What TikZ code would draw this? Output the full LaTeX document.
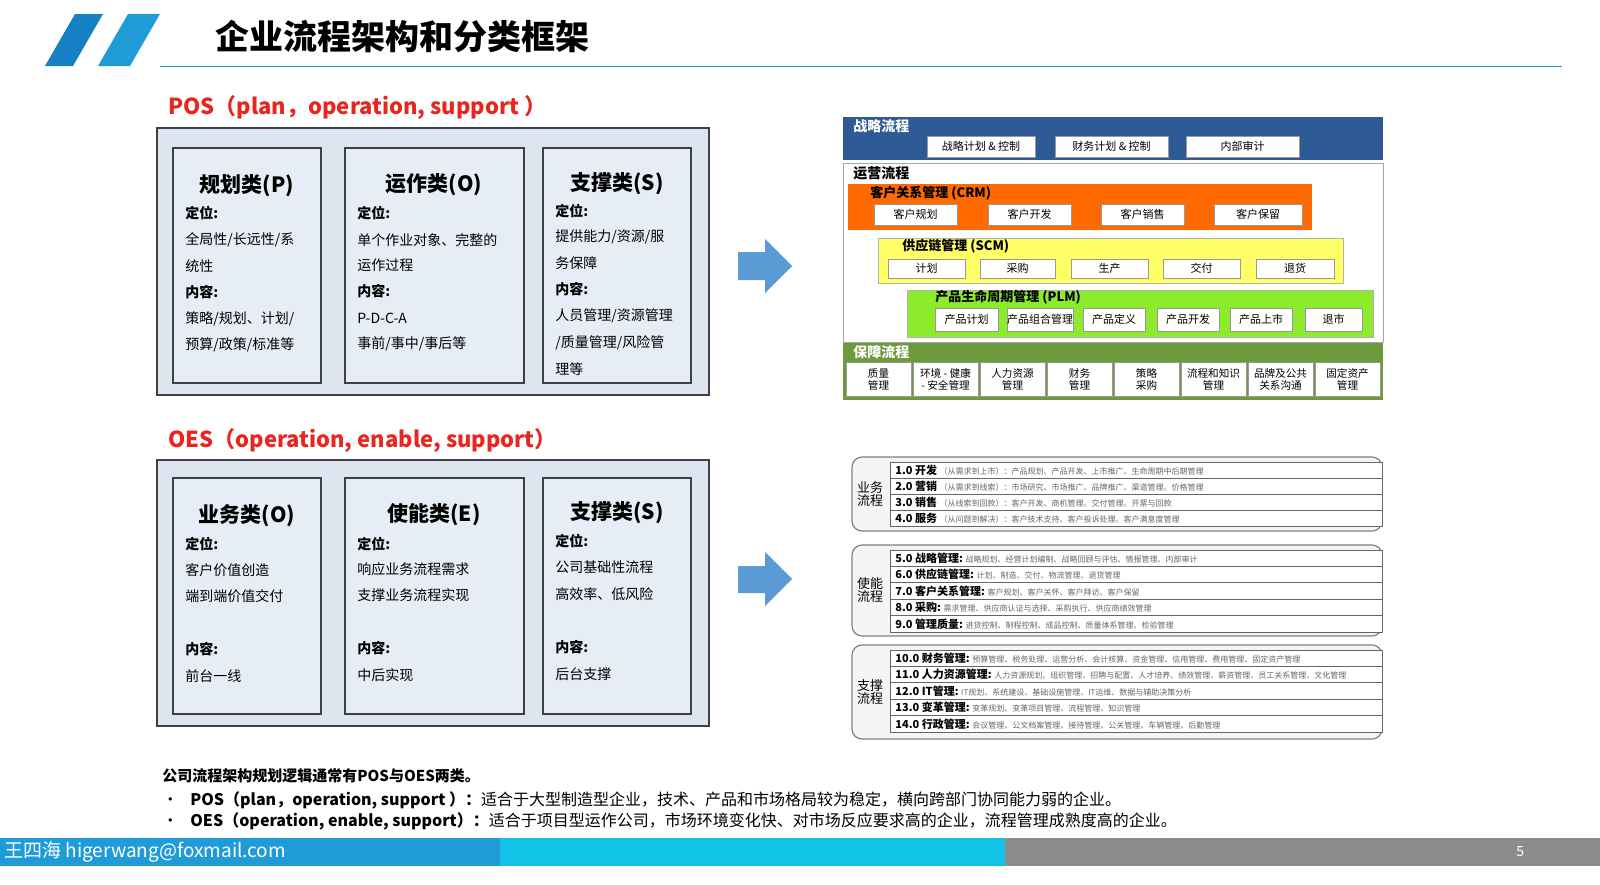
\documentclass[tikz,border=0pt]{standalone}
\usepackage{fontspec}
\setmainfont{Noto Sans CJK SC}
\definecolor{tblue}{HTML}{1F9BD7}
\definecolor{tdark}{HTML}{1580C4}
\definecolor{pred}{HTML}{E8251E}
\definecolor{boxbg}{HTML}{DCE5F0}
\definecolor{inbg}{HTML}{E6EDF6}
\definecolor{strat}{HTML}{2E5A95}
\definecolor{crm}{HTML}{FF6A00}
\definecolor{scm}{HTML}{FFFF66}
\definecolor{plm}{HTML}{8CEB2A}
\definecolor{supg}{HTML}{6C9A3C}
\definecolor{arr}{HTML}{5B9BD5}
\tikzset{
 fs/.style={font=\fontsize{#1}{#1}\selectfont},
 bfs/.style={font=\fontsize{#1}{#1}\selectfont\bfseries},
 outer/.style={draw=black!75, fill=boxbg, line width=0.6pt},
 inner/.style={draw=black!75, fill=inbg, line width=0.6pt},
 cell/.style={draw=black!40, fill=white, line width=0.5pt, inner sep=0pt, align=center, fs=5.5},
 row/.style={draw=black!60, fill=white, line width=0.4pt},
 rbox/.style={draw=black!50, fill=black!4, rounded corners=5pt, line width=0.6pt},
 txt/.style={anchor=west, inner sep=0pt, fs=7},
 head/.style={anchor=center, inner sep=0pt, bfs=10.5},
}
\begin{document}
\begin{tikzpicture}[x=0.5pt,y=-0.5pt]
\useasboundingbox (0,0) rectangle (1600,884);
\fill[white] (0,0) rectangle (1600,884);
% title
\fill[tdark] (75,14) -- (103,14) -- (73,66) -- (45,66) -- cycle;
\fill[tblue] (128,14) -- (160,14) -- (130,66) -- (98,66) -- cycle;
\draw[tblue, line width=0.5pt] (160,66) -- (1562,66);
\node[anchor=west, inner sep=0pt, bfs=17] (title) at (215,36) {企业流程架构和分类框架};
% POS
\node[anchor=west, inner sep=0pt, bfs=11, text=pred] (poslab) at (168,108) {POS（plan，operation, support ）};
\draw[outer] (157,128) rectangle (709,395);
\draw[inner] (173,148) rectangle (321,383);
\draw[inner] (345,148) rectangle (524,383);
\draw[inner] (543,148) rectangle (691,383);
\node[head] (p1) at (247,186) {规划类(P)};
\node[head] (p2) at (434,185) {运作类(O)};
\node[head] (p3) at (617,184) {支撑类(S)};
\foreach \x/\y/\t in {185/213/{\bfseries 定位:},185/240/{全局性/长远性/系},185/266/{统性},185/292/{\bfseries 内容:},185/319/{策略/规划、计划/},185/345/{预算/政策/标准等},
 357/213/{\bfseries 定位:},357/240/{单个作业对象、完整的},357/265/{运作过程},357/291/{\bfseries 内容:},357/318/{P-D-C-A},357/344/{事前/事中/事后等},
 555/211/{\bfseries 定位:},555/237/{提供能力/资源/服},555/263/{务保障},555/289/{\bfseries 内容:},555/316/{人员管理/资源管理},555/343/{/质量管理/风险管},555/369/{理等}}
 \node[txt] at (\x,\y) {\t};
\fill[arr] (738,252) -- (765,252) -- (765,239) -- (792,266) -- (765,293) -- (765,280) -- (738,280) -- cycle;
% OES
\node[anchor=west, inner sep=0pt, bfs=11, text=pred] (oeslab) at (168,440) {OES（operation, enable, support）};
\draw[outer] (157,460) rectangle (709,726);
\draw[inner] (173,478) rectangle (321,714);
\draw[inner] (345,478) rectangle (524,714);
\draw[inner] (543,478) rectangle (691,714);
\node[head] (o1) at (247,516) {业务类(O)};
\node[head] (o2) at (434,515) {使能类(E)};
\node[head] (o3) at (617,513) {支撑类(S)};
\foreach \x/\y/\t in {185/544/{\bfseries 定位:},185/570/{客户价值创造},185/596/{端到端价值交付},185/649/{\bfseries 内容:},185/676/{前台一线},
 357/544/{\bfseries 定位:},357/569/{响应业务流程需求},357/595/{支撑业务流程实现},357/648/{\bfseries 内容:},357/675/{中后实现},
 555/541/{\bfseries 定位:},555/567/{公司基础性流程},555/594/{高效率、低风险},555/647/{\bfseries 内容:},555/674/{后台支撑}}
 \node[txt] at (\x,\y) {\t};
\fill[arr] (738,566) -- (765,566) -- (765,552) -- (792,579) -- (765,606) -- (765,593) -- (738,593) -- cycle;
% right top
\fill[strat] (843,117) rectangle (1383,160);
\node[txt, text=white, bfs=7] (sl) at (853,126) {战略流程};
\node[cell, minimum width=54pt, minimum height=10.5pt] (s1) at (981,146.5) {战略计划 \& 控制};
\node[cell, minimum width=56.5pt, minimum height=10.5pt] (s2) at (1111.5,146.5) {财务计划 \& 控制};
\node[cell, minimum width=56.5pt, minimum height=10.5pt] (s3) at (1242.5,146.5) {内部审计};
\draw[black!35, fill=white] (843,163) rectangle (1383,342);
\node[txt, bfs=7] (ol) at (853,173) {运营流程};
\fill[crm] (848,184) rectangle (1312,230);
\node[txt, bfs=6.5] (crml) at (870,193) {客户关系管理 (CRM)};
\foreach \a/\b/\t [count=\i] in {874/957/客户规划,988/1071/客户开发,1101/1184/客户销售,1214/1302/客户保留}
 \node[cell, minimum width={(\b-\a)*0.5pt}, minimum height=10.5pt] (c\i) at ({(\a+\b)/2},214.5) {\t};
\draw[black!30, fill=scm] (878,238) rectangle (1343,283);
\node[txt, bfs=6.5] (scml) at (902,246) {供应链管理 (SCM)};
\foreach \a/\b/\t [count=\i] in {888/965/计划,980/1055/采购,1071/1148/生产,1163/1240/交付,1256/1334/退货}
 \node[cell, minimum width={(\b-\a)*0.5pt}, minimum height=9.5pt] (sc\i) at ({(\a+\b)/2},268.5) {\t};
\draw[black!30, fill=plm] (907,290) rectangle (1373,337);
\node[txt, bfs=6.5] (plml) at (935,297) {产品生命周期管理 (PLM)};
\foreach \a/\b/\t [count=\i] in {935/998/产品计划,1009/1071/产品组合管理,1083/1145/产品定义,1157/1219/产品开发,1230/1292/产品上市,1305/1362/退市}
 \node[cell, minimum width={(\b-\a)*0.5pt}, minimum height=11.5pt] (pl\i) at ({(\a+\b)/2},319.5) {\t};
\fill[supg] (843,343) rectangle (1383,400);
\node[txt, text=white, bfs=7] (bl) at (853,352) {保障流程};
\foreach \t [count=\i] in {{质量\\管理},{环境 - 健康\\- 安全管理},{人力资源\\管理},{财务\\管理},{策略\\采购},{流程和知识\\管理},{品牌及公共\\关系沟通},{固定资产\\管理}}
 \node[cell, minimum width=32.5pt, minimum height=17pt, font=\fontsize{5.3}{5.8}\selectfont] (b\i) at ({845+67*(\i-0.5)},379.5) {\t};
% right bottom tables
\newcommand{\tbl}[5]{%
 \draw[rbox] (852,#1) rectangle (1382,#2);
 \node[anchor=center, fs=6.5, align=center, inner sep=0pt] at (870,{(#1+#2)/2}) {#3};
 \foreach \lab/\desc [count=\i] in {#5} {
  \draw[row] (890,{#1+5+(\i-1)*#4}) rectangle (1382,{#1+5+\i*#4});
  \node[txt] at (895,{#1+5+(\i-0.5)*#4}) {\fontsize{5.5}{6}\selectfont\bfseries \lab\ \fontsize{4}{5}\selectfont\mdseries\color{black!60}\desc};
 }}
\tbl{457}{531}{业务\\流程}{16}{{1.0 开发}/{（从需求到上市）：产品规划、产品开发、上市推广、生命周期中后期管理},{2.0 营销}/{（从需求到线索）：市场研究、市场推广、品牌推广、渠道管理、价格管理},{3.0 销售}/{（从线索到回款）：客户开发、商机管理、交付管理、开票与回款},{4.0 服务}/{（从问题到解决）：客户技术支持、客户投诉处理、客户满意度管理}}
\tbl{545}{636}{使能\\流程}{16.4}{{5.0 战略管理:}/{战略规划、经营计划编制、战略回顾与评估、情报管理、内部审计},{6.0 供应链管理:}/{计划、制造、交付、物流管理、退货管理},{7.0 客户关系管理:}/{客户规划、客户关怀、客户拜访、客户保留},{8.0 采购:}/{需求管理、供应商认证与选择、采购执行、供应商绩效管理},{9.0 管理质量:}/{进货控制、制程控制、成品控制、质量体系管理、检验管理}}
\tbl{645}{739}{支撑\\流程}{16.4}{{10.0 财务管理:}/{预算管理、税务处理、运营分析、会计核算、资金管理、信用管理、费用管理、固定资产管理},{11.0 人力资源管理:}/{人力资源规划、组织管理、招聘与配置、人才培养、绩效管理、薪资管理、员工关系管理、文化管理},{12.0 IT管理:}/{IT规划、系统建设、基础设施管理、IT运维、数据与辅助决策分析},{13.0 变革管理:}/{变革规划、变革项目管理、流程管理、知识管理},{14.0 行政管理:}/{会议管理、公文档案管理、接待管理、公关管理、车辆管理、后勤管理}}
% bottom text
\node[txt, bfs=7.5] (bt0) at (162,776) {公司流程架构规划逻辑通常有POS与OES两类。};
\node[txt, fs=8] (bt1) at (162,800) {•\hspace{6pt}{\bfseries POS（plan，operation, support ）：}适合于大型制造型企业，技术、产品和市场格局较为稳定，横向跨部门协同能力弱的企业。};
\node[txt, fs=8] (bt2) at (162,821) {•\hspace{6pt}{\bfseries OES（operation, enable, support）：}适合于项目型运作公司，市场环境变化快、对市场反应要求高的企业，流程管理成熟度高的企业。};
% footer
\fill[tblue] (0,838) rectangle (500,866);
\fill[tblue!60!cyan] (500,838) rectangle (1005,866);
\fill[black!45] (1005,838) rectangle (1600,866);
\node[txt, text=white, fs=9.5] (ft) at (4,852) {王四海 higerwang@foxmail.com};
\node[txt, text=white, fs=7] (pg) at (1516,852) {5};
\end{tikzpicture}
\end{document}
